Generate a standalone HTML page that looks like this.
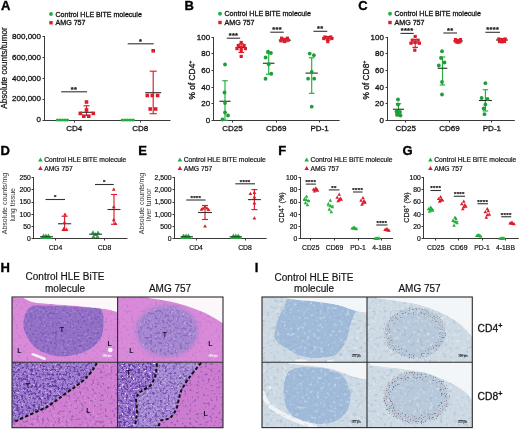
<!DOCTYPE html>
<html><head><meta charset="utf-8"><title>AMG 757 figure</title>
<style>
html,body{margin:0;padding:0;background:#fff;}
body{width:520px;height:429px;overflow:hidden;}
svg{display:block;filter:blur(0.3px);font-family:"Liberation Sans",Arial,sans-serif;}
</style></head>
<body>
<svg width="520" height="429" viewBox="0 0 520 429">
<defs>
<filter id="soft" x="-5%" y="-5%" width="110%" height="110%"><feGaussianBlur stdDeviation="0.55"/></filter>
<filter id="soft2" x="-20%" y="-20%" width="140%" height="140%"><feGaussianBlur stdDeviation="2.2"/></filter>
<filter id="nd" x="0" y="0" width="1" height="1" color-interpolation-filters="sRGB"><feTurbulence type="fractalNoise" baseFrequency="0.38" numOctaves="2" seed="4"/><feColorMatrix type="matrix" values="0 0 0 0 0.42  0 0 0 0 0.22  0 0 0 0 0.62  5 0 0 0 -2.8"/><feGaussianBlur stdDeviation="0.45"/></filter>
<filter id="nd2" x="0" y="0" width="1" height="1" color-interpolation-filters="sRGB"><feTurbulence type="fractalNoise" baseFrequency="0.4" numOctaves="2" seed="11"/><feColorMatrix type="matrix" values="0 0 0 0 0.33  0 0 0 0 0.2  0 0 0 0 0.6  6 0 0 0 -3.2"/><feGaussianBlur stdDeviation="0.45"/></filter>
<filter id="nd3" x="0" y="0" width="1" height="1" color-interpolation-filters="sRGB"><feTurbulence type="fractalNoise" baseFrequency="0.42" numOctaves="2" seed="23"/><feColorMatrix type="matrix" values="0 0 0 0 0.3  0 0 0 0 0.16  0 0 0 0 0.55  7 0 0 0 -3.5"/><feGaussianBlur stdDeviation="0.45"/></filter>
<filter id="nl" x="0" y="0" width="1" height="1" color-interpolation-filters="sRGB"><feTurbulence type="fractalNoise" baseFrequency="0.36" numOctaves="2" seed="7"/><feColorMatrix type="matrix" values="0 0 0 0 0.96  0 0 0 0 0.88  0 0 0 0 0.98  -6 0 0 0 2.4"/><feGaussianBlur stdDeviation="0.45"/></filter>
<filter id="nl2" x="0" y="0" width="1" height="1" color-interpolation-filters="sRGB"><feTurbulence type="fractalNoise" baseFrequency="0.45" numOctaves="2" seed="31"/><feColorMatrix type="matrix" values="0 0 0 0 0.98  0 0 0 0 0.95  0 0 0 0 1  -7 0 0 0 2.6"/><feGaussianBlur stdDeviation="0.45"/></filter>
<filter id="ib" x="0" y="0" width="1" height="1" color-interpolation-filters="sRGB"><feTurbulence type="fractalNoise" baseFrequency="0.3" numOctaves="2" seed="5"/><feColorMatrix type="matrix" values="0 0 0 0 0.55  0 0 0 0 0.64  0 0 0 0 0.76  4 0 0 0 -2.3"/><feGaussianBlur stdDeviation="0.5"/></filter>
<filter id="iw" x="0" y="0" width="1" height="1" color-interpolation-filters="sRGB"><feTurbulence type="fractalNoise" baseFrequency="0.3" numOctaves="2" seed="17"/><feColorMatrix type="matrix" values="0 0 0 0 0.95  0 0 0 0 0.97  0 0 0 0 0.99  -4 0 0 0 1.75"/><feGaussianBlur stdDeviation="0.5"/></filter>
<filter id="br" x="0" y="0" width="1" height="1" color-interpolation-filters="sRGB"><feTurbulence type="fractalNoise" baseFrequency="0.75" numOctaves="1" seed="41"/><feColorMatrix type="matrix" values="0 0 0 0 0.5  0 0 0 0 0.32  0 0 0 0 0.28  8 0 0 0 -4.6"/><feGaussianBlur stdDeviation="0.4"/></filter>
<clipPath id="c1"><rect x="12" y="297" width="105.6" height="65.2"/></clipPath>
<clipPath id="c2"><rect x="117.6" y="297" width="105.4" height="65.2"/></clipPath>
<clipPath id="c3"><rect x="12" y="362.2" width="105.6" height="65.5"/></clipPath>
<clipPath id="c4"><rect x="117.6" y="362.2" width="105.4" height="65.5"/></clipPath>
<clipPath id="c5"><rect x="262" y="297" width="105" height="65.3"/></clipPath>
<clipPath id="c6"><rect x="367" y="297" width="105.3" height="65.3"/></clipPath>
<clipPath id="c7"><rect x="262" y="362.3" width="105" height="65.3"/></clipPath>
<clipPath id="c8"><rect x="367" y="362.3" width="105.3" height="65.3"/></clipPath>
</defs>
<rect x="0" y="0" width="520" height="429" fill="#fff"/>
<text x="0.90" y="10.30" font-size="13" font-weight="bold" fill="#000" stroke="#000" stroke-width="0.35">A</text>
<circle cx="51.00" cy="14.00" r="1.9" fill="#22ad3f"/>
<text x="55.50" y="16.50" font-size="7.1" text-anchor="start" font-weight="normal" fill="#141414" stroke="#141414" stroke-width="0.3" >Control HLE BiTE molecule</text>
<rect x="49.30" y="21.05" width="3.4" height="3.4" fill="#dc1c2a"/>
<text x="55.50" y="25.25" font-size="7.1" text-anchor="start" font-weight="normal" fill="#141414" stroke="#141414" stroke-width="0.3" >AMG 757</text>
<text transform="translate(7.00,68.00) rotate(-90)" font-size="8.2" text-anchor="middle" fill="#141414" stroke="#141414" stroke-width="0.22">Absolute counts/tumor</text>
<line x1="44.50" y1="36.00" x2="44.50" y2="121.00" stroke="#3a3a3a" stroke-width="1.0"/>
<line x1="42.50" y1="120.50" x2="44.50" y2="120.50" stroke="#3a3a3a" stroke-width="1.0"/>
<text x="41.00" y="122.26" font-size="8.0" text-anchor="end" font-weight="normal" fill="#141414" stroke="#141414" stroke-width="0.3" >0</text>
<line x1="42.50" y1="99.50" x2="44.50" y2="99.50" stroke="#3a3a3a" stroke-width="1.0"/>
<text x="41.00" y="101.46" font-size="8.0" text-anchor="end" font-weight="normal" fill="#141414" stroke="#141414" stroke-width="0.3" >200,000</text>
<line x1="42.50" y1="78.50" x2="44.50" y2="78.50" stroke="#3a3a3a" stroke-width="1.0"/>
<text x="41.00" y="80.66" font-size="8.0" text-anchor="end" font-weight="normal" fill="#141414" stroke="#141414" stroke-width="0.3" >400,000</text>
<line x1="42.50" y1="57.50" x2="44.50" y2="57.50" stroke="#3a3a3a" stroke-width="1.0"/>
<text x="41.00" y="59.86" font-size="8.0" text-anchor="end" font-weight="normal" fill="#141414" stroke="#141414" stroke-width="0.3" >600,000</text>
<line x1="42.50" y1="36.50" x2="44.50" y2="36.50" stroke="#3a3a3a" stroke-width="1.0"/>
<text x="41.00" y="39.06" font-size="8.0" text-anchor="end" font-weight="normal" fill="#141414" stroke="#141414" stroke-width="0.3" >800,000</text>
<line x1="44.00" y1="120.50" x2="170.50" y2="120.50" stroke="#3a3a3a" stroke-width="1.0"/>
<line x1="74.50" y1="120.50" x2="74.50" y2="122.50" stroke="#3a3a3a" stroke-width="1.0"/>
<text x="74.30" y="130.80" font-size="8.0" text-anchor="middle" font-weight="normal" fill="#141414" stroke="#141414" stroke-width="0.3" >CD4</text>
<line x1="140.50" y1="120.50" x2="140.50" y2="122.50" stroke="#3a3a3a" stroke-width="1.0"/>
<text x="140.30" y="130.80" font-size="8.0" text-anchor="middle" font-weight="normal" fill="#141414" stroke="#141414" stroke-width="0.3" >CD8</text>
<circle cx="57.50" cy="120.00" r="1.6" fill="#22ad3f"/>
<circle cx="60.00" cy="120.00" r="1.6" fill="#22ad3f"/>
<circle cx="62.50" cy="120.00" r="1.6" fill="#22ad3f"/>
<circle cx="65.00" cy="120.00" r="1.6" fill="#22ad3f"/>
<circle cx="67.30" cy="120.00" r="1.6" fill="#22ad3f"/>
<line x1="56.00" y1="120.00" x2="68.80" y2="120.00" stroke="#22ad3f" stroke-width="1.2"/>
<line x1="86.50" y1="105.80" x2="86.50" y2="115.50" stroke="#dc1c2a" stroke-width="1.15"/>
<line x1="80.00" y1="112.30" x2="93.00" y2="112.30" stroke="#2a2a2a" stroke-width="1.1"/>
<line x1="83.50" y1="105.80" x2="89.50" y2="105.80" stroke="#dc1c2a" stroke-width="1.15"/>
<line x1="83.50" y1="115.50" x2="89.50" y2="115.50" stroke="#dc1c2a" stroke-width="1.15"/>
<rect x="84.70" y="100.20" width="3.6" height="3.6" fill="#dc1c2a"/>
<rect x="84.70" y="108.20" width="3.6" height="3.6" fill="#dc1c2a"/>
<rect x="78.50" y="111.60" width="3.6" height="3.6" fill="#dc1c2a"/>
<rect x="91.50" y="111.60" width="3.6" height="3.6" fill="#dc1c2a"/>
<rect x="82.00" y="114.40" width="3.6" height="3.6" fill="#dc1c2a"/>
<rect x="87.00" y="114.40" width="3.6" height="3.6" fill="#dc1c2a"/>
<line x1="61.20" y1="91.80" x2="87.00" y2="91.80" stroke="#333" stroke-width="1.1"/>
<text x="74.10" y="91.80" font-size="7.4" text-anchor="middle" font-weight="bold" fill="#222" stroke="#222" stroke-width="0.25" letter-spacing="0.35">**</text>
<circle cx="122.30" cy="120.00" r="1.6" fill="#22ad3f"/>
<circle cx="125.00" cy="120.00" r="1.6" fill="#22ad3f"/>
<circle cx="127.70" cy="120.00" r="1.6" fill="#22ad3f"/>
<circle cx="130.40" cy="120.00" r="1.6" fill="#22ad3f"/>
<circle cx="133.10" cy="120.00" r="1.6" fill="#22ad3f"/>
<line x1="121.00" y1="120.00" x2="134.40" y2="120.00" stroke="#22ad3f" stroke-width="1.2"/>
<line x1="153.20" y1="71.20" x2="153.20" y2="113.70" stroke="#dc1c2a" stroke-width="1.15"/>
<line x1="145.20" y1="92.70" x2="161.20" y2="92.70" stroke="#2a2a2a" stroke-width="1.1"/>
<line x1="149.70" y1="71.20" x2="156.70" y2="71.20" stroke="#dc1c2a" stroke-width="1.15"/>
<line x1="149.70" y1="113.70" x2="156.70" y2="113.70" stroke="#dc1c2a" stroke-width="1.15"/>
<rect x="151.40" y="49.00" width="3.6" height="3.6" fill="#dc1c2a"/>
<rect x="145.50" y="93.70" width="3.6" height="3.6" fill="#dc1c2a"/>
<rect x="150.50" y="93.70" width="3.6" height="3.6" fill="#dc1c2a"/>
<rect x="155.80" y="93.70" width="3.6" height="3.6" fill="#dc1c2a"/>
<rect x="148.40" y="107.20" width="3.6" height="3.6" fill="#dc1c2a"/>
<rect x="153.80" y="107.20" width="3.6" height="3.6" fill="#dc1c2a"/>
<line x1="127.70" y1="43.80" x2="153.70" y2="43.80" stroke="#333" stroke-width="1.1"/>
<text x="140.70" y="43.80" font-size="7.4" text-anchor="middle" font-weight="bold" fill="#222" stroke="#222" stroke-width="0.25" letter-spacing="0.35">*</text>
<text x="184.60" y="10.00" font-size="13" font-weight="bold" fill="#000" stroke="#000" stroke-width="0.35">B</text>
<circle cx="220.00" cy="13.75" r="1.9" fill="#22ad3f"/>
<text x="224.50" y="16.25" font-size="7.1" text-anchor="start" font-weight="normal" fill="#141414" stroke="#141414" stroke-width="0.3" >Control HLE BiTE molecule</text>
<rect x="218.30" y="20.80" width="3.4" height="3.4" fill="#dc1c2a"/>
<text x="224.50" y="25.00" font-size="7.1" text-anchor="start" font-weight="normal" fill="#141414" stroke="#141414" stroke-width="0.3" >AMG 757</text>
<text transform="translate(195.4,80) rotate(-90)" font-size="8.4" text-anchor="middle" fill="#141414" stroke="#141414" stroke-width="0.3">% of CD4<tspan dy="-3" font-size="5.5">+</tspan></text>
<line x1="213.50" y1="37.00" x2="213.50" y2="121.00" stroke="#3a3a3a" stroke-width="1.0"/>
<line x1="211.50" y1="120.50" x2="213.50" y2="120.50" stroke="#3a3a3a" stroke-width="1.0"/>
<text x="210.20" y="122.76" font-size="8.0" text-anchor="end" font-weight="normal" fill="#141414" stroke="#141414" stroke-width="0.3" >0</text>
<line x1="211.50" y1="103.50" x2="213.50" y2="103.50" stroke="#3a3a3a" stroke-width="1.0"/>
<text x="210.20" y="106.16" font-size="8.0" text-anchor="end" font-weight="normal" fill="#141414" stroke="#141414" stroke-width="0.3" >20</text>
<line x1="211.50" y1="87.50" x2="213.50" y2="87.50" stroke="#3a3a3a" stroke-width="1.0"/>
<text x="210.20" y="89.56" font-size="8.0" text-anchor="end" font-weight="normal" fill="#141414" stroke="#141414" stroke-width="0.3" >40</text>
<line x1="211.50" y1="70.50" x2="213.50" y2="70.50" stroke="#3a3a3a" stroke-width="1.0"/>
<text x="210.20" y="72.96" font-size="8.0" text-anchor="end" font-weight="normal" fill="#141414" stroke="#141414" stroke-width="0.3" >60</text>
<line x1="211.50" y1="53.50" x2="213.50" y2="53.50" stroke="#3a3a3a" stroke-width="1.0"/>
<text x="210.20" y="56.36" font-size="8.0" text-anchor="end" font-weight="normal" fill="#141414" stroke="#141414" stroke-width="0.3" >80</text>
<line x1="211.50" y1="37.50" x2="213.50" y2="37.50" stroke="#3a3a3a" stroke-width="1.0"/>
<text x="210.20" y="39.76" font-size="8.0" text-anchor="end" font-weight="normal" fill="#141414" stroke="#141414" stroke-width="0.3" >100</text>
<line x1="213.00" y1="120.50" x2="339.60" y2="120.50" stroke="#3a3a3a" stroke-width="1.0"/>
<line x1="232.50" y1="120.50" x2="232.50" y2="122.50" stroke="#3a3a3a" stroke-width="1.0"/>
<text x="232.50" y="130.80" font-size="8.0" text-anchor="middle" font-weight="normal" fill="#141414" stroke="#141414" stroke-width="0.3" >CD25</text>
<line x1="276.50" y1="120.50" x2="276.50" y2="122.50" stroke="#3a3a3a" stroke-width="1.0"/>
<text x="276.25" y="130.80" font-size="8.0" text-anchor="middle" font-weight="normal" fill="#141414" stroke="#141414" stroke-width="0.3" >CD69</text>
<line x1="319.50" y1="120.50" x2="319.50" y2="122.50" stroke="#3a3a3a" stroke-width="1.0"/>
<text x="319.50" y="130.80" font-size="8.0" text-anchor="middle" font-weight="normal" fill="#141414" stroke="#141414" stroke-width="0.3" >PD-1</text>
<line x1="225.00" y1="80.75" x2="225.00" y2="120.30" stroke="#22ad3f" stroke-width="1.15"/>
<line x1="219.40" y1="101.25" x2="230.60" y2="101.25" stroke="#2a2a2a" stroke-width="1.1"/>
<line x1="222.20" y1="80.75" x2="227.80" y2="80.75" stroke="#22ad3f" stroke-width="1.15"/>
<line x1="222.20" y1="120.30" x2="227.80" y2="120.30" stroke="#22ad3f" stroke-width="1.15"/>
<circle cx="225.00" cy="64.50" r="1.9" fill="#1f9d36"/>
<circle cx="224.50" cy="92.50" r="1.9" fill="#1f9d36"/>
<circle cx="225.00" cy="103.00" r="1.9" fill="#1f9d36"/>
<circle cx="225.00" cy="112.50" r="1.9" fill="#1f9d36"/>
<circle cx="228.00" cy="115.50" r="1.9" fill="#1f9d36"/>
<circle cx="222.50" cy="119.50" r="1.9" fill="#1f9d36"/>
<line x1="241.20" y1="44.00" x2="241.20" y2="52.50" stroke="#dc1c2a" stroke-width="1.15"/>
<line x1="235.70" y1="47.50" x2="246.70" y2="47.50" stroke="#2a2a2a" stroke-width="1.1"/>
<line x1="238.40" y1="44.00" x2="244.00" y2="44.00" stroke="#dc1c2a" stroke-width="1.15"/>
<line x1="238.40" y1="52.50" x2="244.00" y2="52.50" stroke="#dc1c2a" stroke-width="1.15"/>
<rect x="239.60" y="40.90" width="3.2" height="3.2" fill="#dc1c2a"/>
<rect x="236.70" y="44.00" width="3.2" height="3.2" fill="#dc1c2a"/>
<rect x="242.50" y="44.00" width="3.2" height="3.2" fill="#dc1c2a"/>
<rect x="239.60" y="45.90" width="3.2" height="3.2" fill="#dc1c2a"/>
<rect x="235.40" y="47.00" width="3.2" height="3.2" fill="#dc1c2a"/>
<rect x="243.80" y="47.00" width="3.2" height="3.2" fill="#dc1c2a"/>
<rect x="239.60" y="48.90" width="3.2" height="3.2" fill="#dc1c2a"/>
<rect x="239.60" y="54.80" width="3.2" height="3.2" fill="#dc1c2a"/>
<line x1="226.80" y1="38.20" x2="240.20" y2="38.20" stroke="#333" stroke-width="1.1"/>
<text x="233.50" y="38.20" font-size="7.4" text-anchor="middle" font-weight="bold" fill="#222" stroke="#222" stroke-width="0.25" letter-spacing="0.35">***</text>
<line x1="268.70" y1="53.00" x2="268.70" y2="74.25" stroke="#22ad3f" stroke-width="1.15"/>
<line x1="262.90" y1="63.25" x2="274.50" y2="63.25" stroke="#2a2a2a" stroke-width="1.1"/>
<line x1="265.90" y1="53.00" x2="271.50" y2="53.00" stroke="#22ad3f" stroke-width="1.15"/>
<line x1="265.90" y1="74.25" x2="271.50" y2="74.25" stroke="#22ad3f" stroke-width="1.15"/>
<circle cx="268.00" cy="51.75" r="1.9" fill="#1f9d36"/>
<circle cx="270.90" cy="53.00" r="1.9" fill="#1f9d36"/>
<circle cx="265.60" cy="57.50" r="1.9" fill="#1f9d36"/>
<circle cx="268.70" cy="64.25" r="1.9" fill="#1f9d36"/>
<circle cx="271.30" cy="73.75" r="1.9" fill="#1f9d36"/>
<circle cx="265.50" cy="78.75" r="1.9" fill="#1f9d36"/>
<line x1="284.80" y1="38.50" x2="284.80" y2="42.00" stroke="#dc1c2a" stroke-width="1.15"/>
<line x1="278.80" y1="40.20" x2="290.80" y2="40.20" stroke="#2a2a2a" stroke-width="1.1"/>
<line x1="282.30" y1="38.50" x2="287.30" y2="38.50" stroke="#dc1c2a" stroke-width="1.15"/>
<line x1="282.30" y1="42.00" x2="287.30" y2="42.00" stroke="#dc1c2a" stroke-width="1.15"/>
<rect x="280.00" y="36.60" width="3.2" height="3.2" fill="#dc1c2a"/>
<rect x="285.80" y="36.60" width="3.2" height="3.2" fill="#dc1c2a"/>
<rect x="282.90" y="39.90" width="3.2" height="3.2" fill="#dc1c2a"/>
<rect x="279.20" y="39.20" width="3.2" height="3.2" fill="#dc1c2a"/>
<rect x="286.60" y="38.60" width="3.2" height="3.2" fill="#dc1c2a"/>
<rect x="282.90" y="37.90" width="3.2" height="3.2" fill="#dc1c2a"/>
<line x1="270.30" y1="32.20" x2="283.80" y2="32.20" stroke="#333" stroke-width="1.1"/>
<text x="277.05" y="32.20" font-size="7.4" text-anchor="middle" font-weight="bold" fill="#222" stroke="#222" stroke-width="0.25" letter-spacing="0.35">***</text>
<line x1="311.70" y1="57.80" x2="311.70" y2="93.30" stroke="#22ad3f" stroke-width="1.15"/>
<line x1="305.60" y1="73.10" x2="317.80" y2="73.10" stroke="#2a2a2a" stroke-width="1.1"/>
<line x1="308.90" y1="57.80" x2="314.50" y2="57.80" stroke="#22ad3f" stroke-width="1.15"/>
<line x1="308.90" y1="93.30" x2="314.50" y2="93.30" stroke="#22ad3f" stroke-width="1.15"/>
<circle cx="309.70" cy="53.60" r="1.9" fill="#1f9d36"/>
<circle cx="313.90" cy="55.20" r="1.9" fill="#1f9d36"/>
<circle cx="308.10" cy="78.70" r="1.9" fill="#1f9d36"/>
<circle cx="314.20" cy="78.70" r="1.9" fill="#1f9d36"/>
<circle cx="311.70" cy="106.70" r="1.9" fill="#1f9d36"/>
<circle cx="311.70" cy="72.00" r="1.9" fill="#1f9d36"/>
<line x1="328.00" y1="36.50" x2="328.00" y2="40.00" stroke="#dc1c2a" stroke-width="1.15"/>
<line x1="322.50" y1="38.00" x2="333.50" y2="38.00" stroke="#2a2a2a" stroke-width="1.1"/>
<line x1="325.50" y1="36.50" x2="330.50" y2="36.50" stroke="#dc1c2a" stroke-width="1.15"/>
<line x1="325.50" y1="40.00" x2="330.50" y2="40.00" stroke="#dc1c2a" stroke-width="1.15"/>
<rect x="323.30" y="35.40" width="3.2" height="3.2" fill="#dc1c2a"/>
<rect x="329.20" y="35.40" width="3.2" height="3.2" fill="#dc1c2a"/>
<rect x="326.20" y="37.80" width="3.2" height="3.2" fill="#dc1c2a"/>
<rect x="326.20" y="40.00" width="3.2" height="3.2" fill="#dc1c2a"/>
<rect x="322.20" y="36.90" width="3.2" height="3.2" fill="#dc1c2a"/>
<rect x="330.20" y="36.90" width="3.2" height="3.2" fill="#dc1c2a"/>
<line x1="313.40" y1="31.30" x2="327.30" y2="31.30" stroke="#333" stroke-width="1.1"/>
<text x="320.35" y="31.30" font-size="7.4" text-anchor="middle" font-weight="bold" fill="#222" stroke="#222" stroke-width="0.25" letter-spacing="0.35">**</text>
<text x="358.30" y="10.30" font-size="13" font-weight="bold" fill="#000" stroke="#000" stroke-width="0.35">C</text>
<circle cx="390.00" cy="13.75" r="1.9" fill="#22ad3f"/>
<text x="394.50" y="16.25" font-size="7.1" text-anchor="start" font-weight="normal" fill="#141414" stroke="#141414" stroke-width="0.3" >Control HLE BiTE molecule</text>
<rect x="388.30" y="20.80" width="3.4" height="3.4" fill="#dc1c2a"/>
<text x="394.50" y="25.00" font-size="7.1" text-anchor="start" font-weight="normal" fill="#141414" stroke="#141414" stroke-width="0.3" >AMG 757</text>
<text transform="translate(369.4,80) rotate(-90)" font-size="8.4" text-anchor="middle" fill="#141414" stroke="#141414" stroke-width="0.3">% of CD8<tspan dy="-3" font-size="5.5">+</tspan></text>
<line x1="387.50" y1="37.00" x2="387.50" y2="121.00" stroke="#3a3a3a" stroke-width="1.0"/>
<line x1="385.50" y1="120.50" x2="387.50" y2="120.50" stroke="#3a3a3a" stroke-width="1.0"/>
<text x="383.90" y="122.76" font-size="8.0" text-anchor="end" font-weight="normal" fill="#141414" stroke="#141414" stroke-width="0.3" >0</text>
<line x1="385.50" y1="103.50" x2="387.50" y2="103.50" stroke="#3a3a3a" stroke-width="1.0"/>
<text x="383.90" y="106.16" font-size="8.0" text-anchor="end" font-weight="normal" fill="#141414" stroke="#141414" stroke-width="0.3" >20</text>
<line x1="385.50" y1="87.50" x2="387.50" y2="87.50" stroke="#3a3a3a" stroke-width="1.0"/>
<text x="383.90" y="89.56" font-size="8.0" text-anchor="end" font-weight="normal" fill="#141414" stroke="#141414" stroke-width="0.3" >40</text>
<line x1="385.50" y1="70.50" x2="387.50" y2="70.50" stroke="#3a3a3a" stroke-width="1.0"/>
<text x="383.90" y="72.96" font-size="8.0" text-anchor="end" font-weight="normal" fill="#141414" stroke="#141414" stroke-width="0.3" >60</text>
<line x1="385.50" y1="53.50" x2="387.50" y2="53.50" stroke="#3a3a3a" stroke-width="1.0"/>
<text x="383.90" y="56.36" font-size="8.0" text-anchor="end" font-weight="normal" fill="#141414" stroke="#141414" stroke-width="0.3" >80</text>
<line x1="385.50" y1="37.50" x2="387.50" y2="37.50" stroke="#3a3a3a" stroke-width="1.0"/>
<text x="383.90" y="39.76" font-size="8.0" text-anchor="end" font-weight="normal" fill="#141414" stroke="#141414" stroke-width="0.3" >100</text>
<line x1="387.00" y1="120.50" x2="514.80" y2="120.50" stroke="#3a3a3a" stroke-width="1.0"/>
<line x1="405.50" y1="120.50" x2="405.50" y2="122.50" stroke="#3a3a3a" stroke-width="1.0"/>
<text x="405.75" y="130.80" font-size="8.0" text-anchor="middle" font-weight="normal" fill="#141414" stroke="#141414" stroke-width="0.3" >CD25</text>
<line x1="449.50" y1="120.50" x2="449.50" y2="122.50" stroke="#3a3a3a" stroke-width="1.0"/>
<text x="449.50" y="130.80" font-size="8.0" text-anchor="middle" font-weight="normal" fill="#141414" stroke="#141414" stroke-width="0.3" >CD69</text>
<line x1="491.50" y1="120.50" x2="491.50" y2="122.50" stroke="#3a3a3a" stroke-width="1.0"/>
<text x="491.90" y="130.80" font-size="8.0" text-anchor="middle" font-weight="normal" fill="#141414" stroke="#141414" stroke-width="0.3" >PD-1</text>
<line x1="398.50" y1="103.75" x2="398.50" y2="116.00" stroke="#22ad3f" stroke-width="1.15"/>
<line x1="392.90" y1="109.25" x2="404.10" y2="109.25" stroke="#2a2a2a" stroke-width="1.1"/>
<line x1="395.70" y1="103.75" x2="401.30" y2="103.75" stroke="#22ad3f" stroke-width="1.15"/>
<line x1="395.70" y1="116.00" x2="401.30" y2="116.00" stroke="#22ad3f" stroke-width="1.15"/>
<circle cx="398.00" cy="99.50" r="1.9" fill="#1f9d36"/>
<circle cx="398.00" cy="104.50" r="1.9" fill="#1f9d36"/>
<circle cx="396.50" cy="111.50" r="1.9" fill="#1f9d36"/>
<circle cx="400.00" cy="112.00" r="1.9" fill="#1f9d36"/>
<circle cx="397.00" cy="114.50" r="1.9" fill="#1f9d36"/>
<circle cx="400.50" cy="115.50" r="1.9" fill="#1f9d36"/>
<line x1="415.20" y1="39.50" x2="415.20" y2="47.40" stroke="#dc1c2a" stroke-width="1.15"/>
<line x1="409.40" y1="43.00" x2="421.00" y2="43.00" stroke="#2a2a2a" stroke-width="1.1"/>
<line x1="412.40" y1="39.50" x2="418.00" y2="39.50" stroke="#dc1c2a" stroke-width="1.15"/>
<line x1="412.40" y1="47.40" x2="418.00" y2="47.40" stroke="#dc1c2a" stroke-width="1.15"/>
<rect x="413.60" y="34.90" width="3.2" height="3.2" fill="#dc1c2a"/>
<rect x="410.70" y="38.60" width="3.2" height="3.2" fill="#dc1c2a"/>
<rect x="416.50" y="38.60" width="3.2" height="3.2" fill="#dc1c2a"/>
<rect x="413.60" y="40.40" width="3.2" height="3.2" fill="#dc1c2a"/>
<rect x="409.40" y="41.60" width="3.2" height="3.2" fill="#dc1c2a"/>
<rect x="417.80" y="41.60" width="3.2" height="3.2" fill="#dc1c2a"/>
<rect x="413.20" y="48.60" width="3.2" height="3.2" fill="#dc1c2a"/>
<line x1="400.50" y1="33.40" x2="413.75" y2="33.40" stroke="#333" stroke-width="1.1"/>
<text x="407.12" y="33.40" font-size="7.4" text-anchor="middle" font-weight="bold" fill="#222" stroke="#222" stroke-width="0.25" letter-spacing="0.35">****</text>
<line x1="442.50" y1="57.00" x2="442.50" y2="85.00" stroke="#22ad3f" stroke-width="1.15"/>
<line x1="437.70" y1="68.25" x2="447.30" y2="68.25" stroke="#2a2a2a" stroke-width="1.1"/>
<line x1="439.70" y1="57.00" x2="445.30" y2="57.00" stroke="#22ad3f" stroke-width="1.15"/>
<line x1="439.70" y1="85.00" x2="445.30" y2="85.00" stroke="#22ad3f" stroke-width="1.15"/>
<circle cx="442.00" cy="51.25" r="1.9" fill="#1f9d36"/>
<circle cx="444.50" cy="62.50" r="1.9" fill="#1f9d36"/>
<circle cx="438.80" cy="65.50" r="1.9" fill="#1f9d36"/>
<circle cx="442.00" cy="82.00" r="1.9" fill="#1f9d36"/>
<circle cx="442.00" cy="94.50" r="1.9" fill="#1f9d36"/>
<circle cx="441.00" cy="58.00" r="1.9" fill="#1f9d36"/>
<line x1="458.00" y1="39.50" x2="458.00" y2="42.50" stroke="#dc1c2a" stroke-width="1.15"/>
<line x1="453.20" y1="41.00" x2="462.80" y2="41.00" stroke="#2a2a2a" stroke-width="1.1"/>
<line x1="455.50" y1="39.50" x2="460.50" y2="39.50" stroke="#dc1c2a" stroke-width="1.15"/>
<line x1="455.50" y1="42.50" x2="460.50" y2="42.50" stroke="#dc1c2a" stroke-width="1.15"/>
<rect x="453.90" y="38.00" width="3.2" height="3.2" fill="#dc1c2a"/>
<rect x="458.90" y="38.00" width="3.2" height="3.2" fill="#dc1c2a"/>
<rect x="456.40" y="40.70" width="3.2" height="3.2" fill="#dc1c2a"/>
<rect x="454.40" y="40.20" width="3.2" height="3.2" fill="#dc1c2a"/>
<rect x="458.40" y="40.20" width="3.2" height="3.2" fill="#dc1c2a"/>
<rect x="456.40" y="39.00" width="3.2" height="3.2" fill="#dc1c2a"/>
<line x1="443.30" y1="33.00" x2="457.00" y2="33.00" stroke="#333" stroke-width="1.1"/>
<text x="450.15" y="33.00" font-size="7.4" text-anchor="middle" font-weight="bold" fill="#222" stroke="#222" stroke-width="0.25" letter-spacing="0.35">**</text>
<line x1="485.40" y1="89.75" x2="485.40" y2="111.00" stroke="#22ad3f" stroke-width="1.15"/>
<line x1="478.90" y1="100.50" x2="491.90" y2="100.50" stroke="#2a2a2a" stroke-width="1.1"/>
<line x1="482.60" y1="89.75" x2="488.20" y2="89.75" stroke="#22ad3f" stroke-width="1.15"/>
<line x1="482.60" y1="111.00" x2="488.20" y2="111.00" stroke="#22ad3f" stroke-width="1.15"/>
<circle cx="485.40" cy="83.20" r="1.9" fill="#1f9d36"/>
<circle cx="481.60" cy="98.00" r="1.9" fill="#1f9d36"/>
<circle cx="487.50" cy="99.00" r="1.9" fill="#1f9d36"/>
<circle cx="485.40" cy="104.40" r="1.9" fill="#1f9d36"/>
<circle cx="483.70" cy="108.50" r="1.9" fill="#1f9d36"/>
<circle cx="484.50" cy="114.20" r="1.9" fill="#1f9d36"/>
<line x1="502.00" y1="38.50" x2="502.00" y2="41.50" stroke="#dc1c2a" stroke-width="1.15"/>
<line x1="496.00" y1="40.00" x2="508.00" y2="40.00" stroke="#2a2a2a" stroke-width="1.1"/>
<line x1="499.50" y1="38.50" x2="504.50" y2="38.50" stroke="#dc1c2a" stroke-width="1.15"/>
<line x1="499.50" y1="41.50" x2="504.50" y2="41.50" stroke="#dc1c2a" stroke-width="1.15"/>
<rect x="497.20" y="37.40" width="3.2" height="3.2" fill="#dc1c2a"/>
<rect x="503.60" y="37.40" width="3.2" height="3.2" fill="#dc1c2a"/>
<rect x="500.40" y="40.20" width="3.2" height="3.2" fill="#dc1c2a"/>
<rect x="497.90" y="39.90" width="3.2" height="3.2" fill="#dc1c2a"/>
<rect x="502.90" y="39.90" width="3.2" height="3.2" fill="#dc1c2a"/>
<rect x="500.40" y="38.40" width="3.2" height="3.2" fill="#dc1c2a"/>
<line x1="485.40" y1="32.30" x2="500.00" y2="32.30" stroke="#333" stroke-width="1.1"/>
<text x="492.70" y="32.30" font-size="7.4" text-anchor="middle" font-weight="bold" fill="#222" stroke="#222" stroke-width="0.25" letter-spacing="0.35">****</text>
<text x="0.40" y="154.70" font-size="13" font-weight="bold" fill="#000" stroke="#000" stroke-width="0.35">D</text>
<polygon points="40.40,157.60 38.10,161.60 42.70,161.60" fill="#22ad3f"/>
<text x="44.20" y="162.40" font-size="6.75" text-anchor="start" font-weight="normal" fill="#141414" stroke="#141414" stroke-width="0.2" >Control HLE BiTE molecule</text>
<polygon points="40.40,166.00 38.10,170.00 42.70,170.00" fill="#dc1c2a"/>
<text x="44.20" y="170.90" font-size="6.75" text-anchor="start" font-weight="normal" fill="#141414" stroke="#141414" stroke-width="0.2" >AMG 757</text>
<text transform="translate(7.30,203.50) rotate(-90)" font-size="7.0" text-anchor="middle" fill="#333" stroke="#333" stroke-width="0">Absolute counts/mg</text>
<text transform="translate(14.60,204.80) rotate(-90)" font-size="7.0" text-anchor="middle" fill="#333" stroke="#333" stroke-width="0">lung tissue</text>
<line x1="33.50" y1="177.00" x2="33.50" y2="239.00" stroke="#3a3a3a" stroke-width="1.0"/>
<line x1="31.50" y1="238.50" x2="33.50" y2="238.50" stroke="#3a3a3a" stroke-width="1.0"/>
<text x="30.85" y="241.18" font-size="6.8" text-anchor="end" font-weight="normal" fill="#141414" stroke="#141414" stroke-width="0.2" >0</text>
<line x1="31.50" y1="226.50" x2="33.50" y2="226.50" stroke="#3a3a3a" stroke-width="1.0"/>
<text x="30.85" y="228.93" font-size="6.8" text-anchor="end" font-weight="normal" fill="#141414" stroke="#141414" stroke-width="0.2" >50</text>
<line x1="31.50" y1="214.50" x2="33.50" y2="214.50" stroke="#3a3a3a" stroke-width="1.0"/>
<text x="30.85" y="216.68" font-size="6.8" text-anchor="end" font-weight="normal" fill="#141414" stroke="#141414" stroke-width="0.2" >100</text>
<line x1="31.50" y1="202.50" x2="33.50" y2="202.50" stroke="#3a3a3a" stroke-width="1.0"/>
<text x="30.85" y="204.43" font-size="6.8" text-anchor="end" font-weight="normal" fill="#141414" stroke="#141414" stroke-width="0.2" >150</text>
<line x1="31.50" y1="189.50" x2="33.50" y2="189.50" stroke="#3a3a3a" stroke-width="1.0"/>
<text x="30.85" y="192.18" font-size="6.8" text-anchor="end" font-weight="normal" fill="#141414" stroke="#141414" stroke-width="0.2" >200</text>
<line x1="31.50" y1="177.50" x2="33.50" y2="177.50" stroke="#3a3a3a" stroke-width="1.0"/>
<text x="30.85" y="179.93" font-size="6.8" text-anchor="end" font-weight="normal" fill="#141414" stroke="#141414" stroke-width="0.2" >250</text>
<line x1="33.00" y1="238.50" x2="127.50" y2="238.50" stroke="#3a3a3a" stroke-width="1.0"/>
<line x1="55.50" y1="238.50" x2="55.50" y2="240.50" stroke="#3a3a3a" stroke-width="1.0"/>
<text x="55.50" y="249.60" font-size="6.8" text-anchor="middle" font-weight="normal" fill="#141414" stroke="#141414" stroke-width="0.2" >CD4</text>
<line x1="104.50" y1="238.50" x2="104.50" y2="240.50" stroke="#3a3a3a" stroke-width="1.0"/>
<text x="104.50" y="249.60" font-size="6.8" text-anchor="middle" font-weight="normal" fill="#141414" stroke="#141414" stroke-width="0.2" >CD8</text>
<polygon points="42.40,235.16 40.25,238.90 44.55,238.90" fill="#22ad3f"/>
<polygon points="44.80,235.16 42.65,238.90 46.95,238.90" fill="#22ad3f"/>
<polygon points="47.20,235.16 45.05,238.90 49.35,238.90" fill="#22ad3f"/>
<polygon points="49.60,235.16 47.45,238.90 51.75,238.90" fill="#22ad3f"/>
<polygon points="43.60,233.56 41.45,237.30 45.75,237.30" fill="#22ad3f"/>
<polygon points="46.00,233.56 43.85,237.30 48.15,237.30" fill="#22ad3f"/>
<polygon points="48.40,233.56 46.25,237.30 50.55,237.30" fill="#22ad3f"/>
<line x1="40.00" y1="236.80" x2="53.00" y2="236.80" stroke="#333" stroke-width="1.1"/>
<line x1="64.60" y1="216.25" x2="64.60" y2="230.50" stroke="#dc1c2a" stroke-width="1.15"/>
<line x1="58.00" y1="223.75" x2="71.20" y2="223.75" stroke="#333" stroke-width="1.1"/>
<line x1="61.60" y1="216.25" x2="67.60" y2="216.25" stroke="#dc1c2a" stroke-width="1.15"/>
<line x1="61.60" y1="230.50" x2="67.60" y2="230.50" stroke="#dc1c2a" stroke-width="1.15"/>
<polygon points="65.00,212.52 63.10,215.82 66.90,215.82" fill="#dc1c2a"/>
<polygon points="63.80,226.82 61.90,230.12 65.70,230.12" fill="#dc1c2a"/>
<polygon points="66.50,227.52 64.60,230.82 68.40,230.82" fill="#dc1c2a"/>
<polygon points="64.50,220.52 62.60,223.82 66.40,223.82" fill="#dc1c2a"/>
<line x1="45.50" y1="199.50" x2="65.00" y2="199.50" stroke="#333" stroke-width="1.1"/>
<text x="55.25" y="199.30" font-size="6.1" text-anchor="middle" font-weight="bold" fill="#222" stroke="#222" stroke-width="0.25" letter-spacing="0.35">*</text>
<polygon points="93.00,230.36 90.85,234.10 95.15,234.10" fill="#22ad3f"/>
<polygon points="98.00,230.56 95.85,234.30 100.15,234.30" fill="#22ad3f"/>
<polygon points="95.50,232.36 93.35,236.10 97.65,236.10" fill="#22ad3f"/>
<polygon points="93.50,234.36 91.35,238.10 95.65,238.10" fill="#22ad3f"/>
<polygon points="97.50,234.16 95.35,237.90 99.65,237.90" fill="#22ad3f"/>
<line x1="89.10" y1="234.20" x2="102.00" y2="234.20" stroke="#333" stroke-width="1.1"/>
<line x1="114.00" y1="194.50" x2="114.00" y2="224.25" stroke="#dc1c2a" stroke-width="1.15"/>
<line x1="107.50" y1="209.50" x2="120.50" y2="209.50" stroke="#333" stroke-width="1.1"/>
<line x1="111.00" y1="194.50" x2="117.00" y2="194.50" stroke="#dc1c2a" stroke-width="1.15"/>
<line x1="111.00" y1="224.25" x2="117.00" y2="224.25" stroke="#dc1c2a" stroke-width="1.15"/>
<polygon points="113.75,187.52 111.85,190.82 115.65,190.82" fill="#dc1c2a"/>
<polygon points="113.75,205.02 111.85,208.32 115.65,208.32" fill="#dc1c2a"/>
<polygon points="113.75,218.02 111.85,221.32 115.65,221.32" fill="#dc1c2a"/>
<polygon points="115.50,221.77 113.60,225.07 117.40,225.07" fill="#dc1c2a"/>
<line x1="95.00" y1="184.50" x2="113.75" y2="184.50" stroke="#333" stroke-width="1.1"/>
<text x="104.38" y="184.30" font-size="6.1" text-anchor="middle" font-weight="bold" fill="#222" stroke="#222" stroke-width="0.25" letter-spacing="0.35">*</text>
<text x="138.20" y="154.70" font-size="13" font-weight="bold" fill="#000" stroke="#000" stroke-width="0.35">E</text>
<polygon points="179.90,157.60 177.60,161.60 182.20,161.60" fill="#22ad3f"/>
<text x="183.70" y="162.40" font-size="6.75" text-anchor="start" font-weight="normal" fill="#141414" stroke="#141414" stroke-width="0.2" >Control HLE BiTE molecule</text>
<polygon points="179.90,166.00 177.60,170.00 182.20,170.00" fill="#dc1c2a"/>
<text x="183.70" y="170.90" font-size="6.75" text-anchor="start" font-weight="normal" fill="#141414" stroke="#141414" stroke-width="0.2" >AMG 757</text>
<text transform="translate(144.00,203.50) rotate(-90)" font-size="7.0" text-anchor="middle" fill="#333" stroke="#333" stroke-width="0">Absolute counts/mg</text>
<text transform="translate(151.30,204.80) rotate(-90)" font-size="7.0" text-anchor="middle" fill="#333" stroke="#333" stroke-width="0">liver tumor</text>
<line x1="174.50" y1="177.00" x2="174.50" y2="239.00" stroke="#3a3a3a" stroke-width="1.0"/>
<line x1="172.50" y1="238.50" x2="174.50" y2="238.50" stroke="#3a3a3a" stroke-width="1.0"/>
<text x="171.50" y="241.18" font-size="6.8" text-anchor="end" font-weight="normal" fill="#141414" stroke="#141414" stroke-width="0.2" >0</text>
<line x1="172.50" y1="226.50" x2="174.50" y2="226.50" stroke="#3a3a3a" stroke-width="1.0"/>
<text x="171.50" y="228.93" font-size="6.8" text-anchor="end" font-weight="normal" fill="#141414" stroke="#141414" stroke-width="0.2" >500</text>
<line x1="172.50" y1="214.50" x2="174.50" y2="214.50" stroke="#3a3a3a" stroke-width="1.0"/>
<text x="171.50" y="216.68" font-size="6.8" text-anchor="end" font-weight="normal" fill="#141414" stroke="#141414" stroke-width="0.2" >1,000</text>
<line x1="172.50" y1="202.50" x2="174.50" y2="202.50" stroke="#3a3a3a" stroke-width="1.0"/>
<text x="171.50" y="204.43" font-size="6.8" text-anchor="end" font-weight="normal" fill="#141414" stroke="#141414" stroke-width="0.2" >1,500</text>
<line x1="172.50" y1="189.50" x2="174.50" y2="189.50" stroke="#3a3a3a" stroke-width="1.0"/>
<text x="171.50" y="192.18" font-size="6.8" text-anchor="end" font-weight="normal" fill="#141414" stroke="#141414" stroke-width="0.2" >2,000</text>
<line x1="172.50" y1="177.50" x2="174.50" y2="177.50" stroke="#3a3a3a" stroke-width="1.0"/>
<text x="171.50" y="179.93" font-size="6.8" text-anchor="end" font-weight="normal" fill="#141414" stroke="#141414" stroke-width="0.2" >2,500</text>
<line x1="174.00" y1="238.50" x2="266.70" y2="238.50" stroke="#3a3a3a" stroke-width="1.0"/>
<line x1="196.50" y1="238.50" x2="196.50" y2="240.50" stroke="#3a3a3a" stroke-width="1.0"/>
<text x="196.10" y="249.60" font-size="6.8" text-anchor="middle" font-weight="normal" fill="#141414" stroke="#141414" stroke-width="0.2" >CD4</text>
<line x1="245.50" y1="238.50" x2="245.50" y2="240.50" stroke="#3a3a3a" stroke-width="1.0"/>
<text x="245.00" y="249.60" font-size="6.8" text-anchor="middle" font-weight="normal" fill="#141414" stroke="#141414" stroke-width="0.2" >CD8</text>
<polygon points="182.40,235.16 180.25,238.90 184.55,238.90" fill="#22ad3f"/>
<polygon points="184.80,235.16 182.65,238.90 186.95,238.90" fill="#22ad3f"/>
<polygon points="187.20,235.16 185.05,238.90 189.35,238.90" fill="#22ad3f"/>
<polygon points="189.60,235.16 187.45,238.90 191.75,238.90" fill="#22ad3f"/>
<polygon points="183.60,233.56 181.45,237.30 185.75,237.30" fill="#22ad3f"/>
<polygon points="186.00,233.56 183.85,237.30 188.15,237.30" fill="#22ad3f"/>
<polygon points="188.40,233.56 186.25,237.30 190.55,237.30" fill="#22ad3f"/>
<line x1="180.50" y1="236.80" x2="193.00" y2="236.80" stroke="#333" stroke-width="1.1"/>
<line x1="205.00" y1="205.50" x2="205.00" y2="219.50" stroke="#dc1c2a" stroke-width="1.15"/>
<line x1="198.00" y1="212.50" x2="212.00" y2="212.50" stroke="#333" stroke-width="1.1"/>
<line x1="202.00" y1="205.50" x2="208.00" y2="205.50" stroke="#dc1c2a" stroke-width="1.15"/>
<line x1="202.00" y1="219.50" x2="208.00" y2="219.50" stroke="#dc1c2a" stroke-width="1.15"/>
<polygon points="203.00,206.52 201.10,209.82 204.90,209.82" fill="#dc1c2a"/>
<polygon points="207.00,206.22 205.10,209.52 208.90,209.52" fill="#dc1c2a"/>
<polygon points="205.00,205.02 203.10,208.32 206.90,208.32" fill="#dc1c2a"/>
<polygon points="201.50,207.52 199.60,210.82 203.40,210.82" fill="#dc1c2a"/>
<polygon points="208.50,207.82 206.60,211.12 210.40,211.12" fill="#dc1c2a"/>
<polygon points="205.00,224.32 203.10,227.62 206.90,227.62" fill="#dc1c2a"/>
<line x1="186.25" y1="200.00" x2="205.50" y2="200.00" stroke="#333" stroke-width="1.1"/>
<text x="195.88" y="199.80" font-size="6.1" text-anchor="middle" font-weight="bold" fill="#222" stroke="#222" stroke-width="0.25" letter-spacing="0.35">****</text>
<polygon points="232.20,235.16 230.05,238.90 234.35,238.90" fill="#22ad3f"/>
<polygon points="234.60,235.16 232.45,238.90 236.75,238.90" fill="#22ad3f"/>
<polygon points="237.00,235.16 234.85,238.90 239.15,238.90" fill="#22ad3f"/>
<polygon points="239.40,235.16 237.25,238.90 241.55,238.90" fill="#22ad3f"/>
<polygon points="233.40,233.56 231.25,237.30 235.55,237.30" fill="#22ad3f"/>
<polygon points="235.80,233.56 233.65,237.30 237.95,237.30" fill="#22ad3f"/>
<polygon points="238.20,233.56 236.05,237.30 240.35,237.30" fill="#22ad3f"/>
<line x1="229.50" y1="236.80" x2="242.00" y2="236.80" stroke="#333" stroke-width="1.1"/>
<line x1="254.40" y1="189.60" x2="254.40" y2="209.60" stroke="#dc1c2a" stroke-width="1.15"/>
<line x1="247.90" y1="199.60" x2="260.90" y2="199.60" stroke="#333" stroke-width="1.1"/>
<line x1="251.40" y1="189.60" x2="257.40" y2="189.60" stroke="#dc1c2a" stroke-width="1.15"/>
<line x1="251.40" y1="209.60" x2="257.40" y2="209.60" stroke="#dc1c2a" stroke-width="1.15"/>
<polygon points="250.40,191.82 248.50,195.12 252.30,195.12" fill="#dc1c2a"/>
<polygon points="254.40,190.62 252.50,193.92 256.30,193.92" fill="#dc1c2a"/>
<polygon points="254.40,195.32 252.50,198.62 256.30,198.62" fill="#dc1c2a"/>
<polygon points="254.40,201.12 252.50,204.42 256.30,204.42" fill="#dc1c2a"/>
<polygon points="254.40,216.32 252.50,219.62 256.30,219.62" fill="#dc1c2a"/>
<line x1="235.30" y1="183.80" x2="255.00" y2="183.80" stroke="#333" stroke-width="1.1"/>
<text x="245.15" y="183.60" font-size="6.1" text-anchor="middle" font-weight="bold" fill="#222" stroke="#222" stroke-width="0.25" letter-spacing="0.35">****</text>
<text x="278.30" y="154.70" font-size="13" font-weight="bold" fill="#000" stroke="#000" stroke-width="0.35">F</text>
<polygon points="306.65,157.60 304.35,161.60 308.95,161.60" fill="#22ad3f"/>
<text x="310.45" y="162.40" font-size="6.75" text-anchor="start" font-weight="normal" fill="#141414" stroke="#141414" stroke-width="0.2" >Control HLE BiTE molecule</text>
<polygon points="306.65,166.00 304.35,170.00 308.95,170.00" fill="#dc1c2a"/>
<text x="310.45" y="170.90" font-size="6.75" text-anchor="start" font-weight="normal" fill="#141414" stroke="#141414" stroke-width="0.2" >AMG 757</text>
<text transform="translate(283.9,207.5) rotate(-90)" font-size="7.2" text-anchor="middle" fill="#141414" stroke="#141414" stroke-width="0.2">CD4<tspan dy="-2.6" font-size="4.8">+</tspan><tspan dy="2.6"> (%)</tspan></text>
<line x1="300.50" y1="177.00" x2="300.50" y2="239.00" stroke="#3a3a3a" stroke-width="1.0"/>
<line x1="298.50" y1="238.50" x2="300.50" y2="238.50" stroke="#3a3a3a" stroke-width="1.0"/>
<text x="297.30" y="241.18" font-size="6.8" text-anchor="end" font-weight="normal" fill="#141414" stroke="#141414" stroke-width="0.2" >0</text>
<line x1="298.50" y1="226.50" x2="300.50" y2="226.50" stroke="#3a3a3a" stroke-width="1.0"/>
<text x="297.30" y="228.93" font-size="6.8" text-anchor="end" font-weight="normal" fill="#141414" stroke="#141414" stroke-width="0.2" >20</text>
<line x1="298.50" y1="214.50" x2="300.50" y2="214.50" stroke="#3a3a3a" stroke-width="1.0"/>
<text x="297.30" y="216.68" font-size="6.8" text-anchor="end" font-weight="normal" fill="#141414" stroke="#141414" stroke-width="0.2" >40</text>
<line x1="298.50" y1="202.50" x2="300.50" y2="202.50" stroke="#3a3a3a" stroke-width="1.0"/>
<text x="297.30" y="204.43" font-size="6.8" text-anchor="end" font-weight="normal" fill="#141414" stroke="#141414" stroke-width="0.2" >60</text>
<line x1="298.50" y1="189.50" x2="300.50" y2="189.50" stroke="#3a3a3a" stroke-width="1.0"/>
<text x="297.30" y="192.18" font-size="6.8" text-anchor="end" font-weight="normal" fill="#141414" stroke="#141414" stroke-width="0.2" >80</text>
<line x1="298.50" y1="177.50" x2="300.50" y2="177.50" stroke="#3a3a3a" stroke-width="1.0"/>
<text x="297.30" y="179.93" font-size="6.8" text-anchor="end" font-weight="normal" fill="#141414" stroke="#141414" stroke-width="0.2" >100</text>
<line x1="300.00" y1="238.50" x2="393.00" y2="238.50" stroke="#3a3a3a" stroke-width="1.0"/>
<line x1="310.50" y1="238.50" x2="310.50" y2="240.50" stroke="#3a3a3a" stroke-width="1.0"/>
<text x="310.75" y="249.60" font-size="6.8" text-anchor="middle" font-weight="normal" fill="#141414" stroke="#141414" stroke-width="0.2" >CD25</text>
<line x1="334.50" y1="238.50" x2="334.50" y2="240.50" stroke="#3a3a3a" stroke-width="1.0"/>
<text x="334.50" y="249.60" font-size="6.8" text-anchor="middle" font-weight="normal" fill="#141414" stroke="#141414" stroke-width="0.2" >CD69</text>
<line x1="358.50" y1="238.50" x2="358.50" y2="240.50" stroke="#3a3a3a" stroke-width="1.0"/>
<text x="358.00" y="249.60" font-size="6.8" text-anchor="middle" font-weight="normal" fill="#141414" stroke="#141414" stroke-width="0.2" >PD-1</text>
<line x1="381.50" y1="238.50" x2="381.50" y2="240.50" stroke="#3a3a3a" stroke-width="1.0"/>
<text x="381.75" y="249.60" font-size="6.8" text-anchor="middle" font-weight="normal" fill="#141414" stroke="#141414" stroke-width="0.2" >4-1BB</text>
<polygon points="306.50,194.62 304.70,197.75 308.30,197.75" fill="#22ad3f"/>
<polygon points="304.50,197.12 302.70,200.25 306.30,200.25" fill="#22ad3f"/>
<polygon points="308.50,199.12 306.70,202.25 310.30,202.25" fill="#22ad3f"/>
<polygon points="305.50,201.12 303.70,204.25 307.30,204.25" fill="#22ad3f"/>
<polygon points="307.50,203.12 305.70,206.25 309.30,206.25" fill="#22ad3f"/>
<polygon points="306.50,198.12 304.70,201.25 308.30,201.25" fill="#22ad3f"/>
<line x1="303.00" y1="200.50" x2="310.00" y2="200.50" stroke="#22ad3f" stroke-width="0.9"/>
<polygon points="315.50,186.62 313.70,189.75 317.30,189.75" fill="#dc1c2a"/>
<polygon points="313.50,187.62 311.70,190.75 315.30,190.75" fill="#dc1c2a"/>
<polygon points="317.50,188.62 315.70,191.75 319.30,191.75" fill="#dc1c2a"/>
<polygon points="314.50,189.42 312.70,192.55 316.30,192.55" fill="#dc1c2a"/>
<polygon points="316.50,187.12 314.70,190.25 318.30,190.25" fill="#dc1c2a"/>
<polygon points="315.50,188.12 313.70,191.25 317.30,191.25" fill="#dc1c2a"/>
<line x1="305.80" y1="184.10" x2="315.90" y2="184.10" stroke="#333" stroke-width="1.1"/>
<text x="310.85" y="183.90" font-size="6.1" text-anchor="middle" font-weight="bold" fill="#222" stroke="#222" stroke-width="0.25" letter-spacing="0.35">****</text>
<polygon points="330.30,198.62 328.50,201.75 332.10,201.75" fill="#22ad3f"/>
<polygon points="328.30,202.12 326.50,205.25 330.10,205.25" fill="#22ad3f"/>
<polygon points="332.30,205.12 330.50,208.25 334.10,208.25" fill="#22ad3f"/>
<polygon points="329.30,207.62 327.50,210.75 331.10,210.75" fill="#22ad3f"/>
<polygon points="331.30,210.12 329.50,213.25 333.10,213.25" fill="#22ad3f"/>
<polygon points="330.30,204.12 328.50,207.25 332.10,207.25" fill="#22ad3f"/>
<line x1="327.00" y1="206.00" x2="334.00" y2="206.00" stroke="#22ad3f" stroke-width="0.9"/>
<polygon points="339.20,192.62 337.40,195.75 341.00,195.75" fill="#dc1c2a"/>
<polygon points="337.20,195.62 335.40,198.75 339.00,198.75" fill="#dc1c2a"/>
<polygon points="341.20,197.62 339.40,200.75 343.00,200.75" fill="#dc1c2a"/>
<polygon points="338.20,199.12 336.40,202.25 340.00,202.25" fill="#dc1c2a"/>
<polygon points="340.20,196.62 338.40,199.75 342.00,199.75" fill="#dc1c2a"/>
<polygon points="339.20,198.12 337.40,201.25 341.00,201.25" fill="#dc1c2a"/>
<line x1="328.80" y1="189.90" x2="339.40" y2="189.90" stroke="#333" stroke-width="1.1"/>
<text x="334.10" y="189.70" font-size="6.1" text-anchor="middle" font-weight="bold" fill="#222" stroke="#222" stroke-width="0.25" letter-spacing="0.35">**</text>
<polygon points="354.20,225.62 352.40,228.75 356.00,228.75" fill="#22ad3f"/>
<polygon points="352.20,226.42 350.40,229.55 354.00,229.55" fill="#22ad3f"/>
<polygon points="356.20,227.12 354.40,230.25 358.00,230.25" fill="#22ad3f"/>
<polygon points="353.20,226.12 351.40,229.25 355.00,229.25" fill="#22ad3f"/>
<polygon points="355.20,226.72 353.40,229.85 357.00,229.85" fill="#22ad3f"/>
<polygon points="354.20,226.32 352.40,229.45 356.00,229.45" fill="#22ad3f"/>
<line x1="351.00" y1="228.30" x2="357.50" y2="228.30" stroke="#22ad3f" stroke-width="0.9"/>
<polygon points="363.00,196.12 361.20,199.25 364.80,199.25" fill="#dc1c2a"/>
<polygon points="361.00,198.62 359.20,201.75 362.80,201.75" fill="#dc1c2a"/>
<polygon points="365.00,200.62 363.20,203.75 366.80,203.75" fill="#dc1c2a"/>
<polygon points="362.00,202.62 360.20,205.75 363.80,205.75" fill="#dc1c2a"/>
<polygon points="364.00,199.12 362.20,202.25 365.80,202.25" fill="#dc1c2a"/>
<polygon points="363.00,201.12 361.20,204.25 364.80,204.25" fill="#dc1c2a"/>
<line x1="353.00" y1="192.00" x2="362.50" y2="192.00" stroke="#333" stroke-width="1.1"/>
<text x="357.75" y="191.80" font-size="6.1" text-anchor="middle" font-weight="bold" fill="#222" stroke="#222" stroke-width="0.25" letter-spacing="0.35">****</text>
<polygon points="377.00,236.42 375.20,239.55 378.80,239.55" fill="#22ad3f"/>
<polygon points="375.00,236.62 373.20,239.75 376.80,239.75" fill="#22ad3f"/>
<polygon points="379.00,236.32 377.20,239.45 380.80,239.45" fill="#22ad3f"/>
<polygon points="376.00,236.72 374.20,239.85 377.80,239.85" fill="#22ad3f"/>
<polygon points="378.00,236.52 376.20,239.65 379.80,239.65" fill="#22ad3f"/>
<polygon points="377.00,236.62 375.20,239.75 378.80,239.75" fill="#22ad3f"/>
<polygon points="387.00,227.12 385.20,230.25 388.80,230.25" fill="#dc1c2a"/>
<polygon points="385.00,227.92 383.20,231.05 386.80,231.05" fill="#dc1c2a"/>
<polygon points="389.00,228.62 387.20,231.75 390.80,231.75" fill="#dc1c2a"/>
<polygon points="386.00,227.62 384.20,230.75 387.80,230.75" fill="#dc1c2a"/>
<polygon points="388.00,228.32 386.20,231.45 389.80,231.45" fill="#dc1c2a"/>
<polygon points="387.00,228.02 385.20,231.15 388.80,231.15" fill="#dc1c2a"/>
<line x1="376.25" y1="225.00" x2="387.50" y2="225.00" stroke="#333" stroke-width="1.1"/>
<text x="381.88" y="224.80" font-size="6.1" text-anchor="middle" font-weight="bold" fill="#222" stroke="#222" stroke-width="0.25" letter-spacing="0.35">****</text>
<text x="402.50" y="154.70" font-size="13" font-weight="bold" fill="#000" stroke="#000" stroke-width="0.35">G</text>
<polygon points="430.40,157.60 428.10,161.60 432.70,161.60" fill="#22ad3f"/>
<text x="434.20" y="162.40" font-size="6.75" text-anchor="start" font-weight="normal" fill="#141414" stroke="#141414" stroke-width="0.2" >Control HLE BiTE molecule</text>
<polygon points="430.40,166.00 428.10,170.00 432.70,170.00" fill="#dc1c2a"/>
<text x="434.20" y="170.90" font-size="6.75" text-anchor="start" font-weight="normal" fill="#141414" stroke="#141414" stroke-width="0.2" >AMG 757</text>
<text transform="translate(408.9,207.5) rotate(-90)" font-size="7.2" text-anchor="middle" fill="#141414" stroke="#141414" stroke-width="0.2">CD8<tspan dy="-2.6" font-size="4.8">+</tspan><tspan dy="2.6"> (%)</tspan></text>
<line x1="423.50" y1="177.00" x2="423.50" y2="239.00" stroke="#3a3a3a" stroke-width="1.0"/>
<line x1="421.50" y1="238.50" x2="423.50" y2="238.50" stroke="#3a3a3a" stroke-width="1.0"/>
<text x="420.75" y="241.18" font-size="6.8" text-anchor="end" font-weight="normal" fill="#141414" stroke="#141414" stroke-width="0.2" >0</text>
<line x1="421.50" y1="226.50" x2="423.50" y2="226.50" stroke="#3a3a3a" stroke-width="1.0"/>
<text x="420.75" y="228.93" font-size="6.8" text-anchor="end" font-weight="normal" fill="#141414" stroke="#141414" stroke-width="0.2" >20</text>
<line x1="421.50" y1="214.50" x2="423.50" y2="214.50" stroke="#3a3a3a" stroke-width="1.0"/>
<text x="420.75" y="216.68" font-size="6.8" text-anchor="end" font-weight="normal" fill="#141414" stroke="#141414" stroke-width="0.2" >40</text>
<line x1="421.50" y1="202.50" x2="423.50" y2="202.50" stroke="#3a3a3a" stroke-width="1.0"/>
<text x="420.75" y="204.43" font-size="6.8" text-anchor="end" font-weight="normal" fill="#141414" stroke="#141414" stroke-width="0.2" >60</text>
<line x1="421.50" y1="189.50" x2="423.50" y2="189.50" stroke="#3a3a3a" stroke-width="1.0"/>
<text x="420.75" y="192.18" font-size="6.8" text-anchor="end" font-weight="normal" fill="#141414" stroke="#141414" stroke-width="0.2" >80</text>
<line x1="421.50" y1="177.50" x2="423.50" y2="177.50" stroke="#3a3a3a" stroke-width="1.0"/>
<text x="420.75" y="179.93" font-size="6.8" text-anchor="end" font-weight="normal" fill="#141414" stroke="#141414" stroke-width="0.2" >100</text>
<line x1="423.00" y1="238.50" x2="518.75" y2="238.50" stroke="#3a3a3a" stroke-width="1.0"/>
<line x1="435.50" y1="238.50" x2="435.50" y2="240.50" stroke="#3a3a3a" stroke-width="1.0"/>
<text x="435.75" y="249.60" font-size="6.8" text-anchor="middle" font-weight="normal" fill="#141414" stroke="#141414" stroke-width="0.2" >CD25</text>
<line x1="458.50" y1="238.50" x2="458.50" y2="240.50" stroke="#3a3a3a" stroke-width="1.0"/>
<text x="458.75" y="249.60" font-size="6.8" text-anchor="middle" font-weight="normal" fill="#141414" stroke="#141414" stroke-width="0.2" >CD69</text>
<line x1="482.50" y1="238.50" x2="482.50" y2="240.50" stroke="#3a3a3a" stroke-width="1.0"/>
<text x="482.00" y="249.60" font-size="6.8" text-anchor="middle" font-weight="normal" fill="#141414" stroke="#141414" stroke-width="0.2" >PD-1</text>
<line x1="505.50" y1="238.50" x2="505.50" y2="240.50" stroke="#3a3a3a" stroke-width="1.0"/>
<text x="505.50" y="249.60" font-size="6.8" text-anchor="middle" font-weight="normal" fill="#141414" stroke="#141414" stroke-width="0.2" >4-1BB</text>
<polygon points="430.60,205.62 428.80,208.75 432.40,208.75" fill="#22ad3f"/>
<polygon points="428.60,207.12 426.80,210.25 430.40,210.25" fill="#22ad3f"/>
<polygon points="432.60,208.62 430.80,211.75 434.40,211.75" fill="#22ad3f"/>
<polygon points="429.60,209.62 427.80,212.75 431.40,212.75" fill="#22ad3f"/>
<polygon points="431.60,206.62 429.80,209.75 433.40,209.75" fill="#22ad3f"/>
<polygon points="430.60,208.12 428.80,211.25 432.40,211.25" fill="#22ad3f"/>
<line x1="427.50" y1="209.50" x2="434.00" y2="209.50" stroke="#22ad3f" stroke-width="0.9"/>
<polygon points="440.60,195.12 438.80,198.25 442.40,198.25" fill="#dc1c2a"/>
<polygon points="438.60,196.92 436.80,200.05 440.40,200.05" fill="#dc1c2a"/>
<polygon points="442.60,198.42 440.80,201.55 444.40,201.55" fill="#dc1c2a"/>
<polygon points="439.60,199.62 437.80,202.75 441.40,202.75" fill="#dc1c2a"/>
<polygon points="441.60,197.62 439.80,200.75 443.40,200.75" fill="#dc1c2a"/>
<polygon points="440.60,198.62 438.80,201.75 442.40,201.75" fill="#dc1c2a"/>
<line x1="430.50" y1="190.50" x2="441.00" y2="190.50" stroke="#333" stroke-width="1.1"/>
<text x="435.75" y="190.30" font-size="6.1" text-anchor="middle" font-weight="bold" fill="#222" stroke="#222" stroke-width="0.25" letter-spacing="0.35">****</text>
<polygon points="455.00,215.62 453.20,218.75 456.80,218.75" fill="#22ad3f"/>
<polygon points="453.00,218.62 451.20,221.75 454.80,221.75" fill="#22ad3f"/>
<polygon points="457.00,221.12 455.20,224.25 458.80,224.25" fill="#22ad3f"/>
<polygon points="454.00,223.62 452.20,226.75 455.80,226.75" fill="#22ad3f"/>
<polygon points="456.00,217.12 454.20,220.25 457.80,220.25" fill="#22ad3f"/>
<polygon points="455.00,220.12 453.20,223.25 456.80,223.25" fill="#22ad3f"/>
<line x1="452.00" y1="221.50" x2="458.50" y2="221.50" stroke="#22ad3f" stroke-width="0.9"/>
<polygon points="463.80,199.62 462.00,202.75 465.60,202.75" fill="#dc1c2a"/>
<polygon points="461.80,202.12 460.00,205.25 463.60,205.25" fill="#dc1c2a"/>
<polygon points="465.80,204.62 464.00,207.75 467.60,207.75" fill="#dc1c2a"/>
<polygon points="462.80,207.12 461.00,210.25 464.60,210.25" fill="#dc1c2a"/>
<polygon points="464.80,203.12 463.00,206.25 466.60,206.25" fill="#dc1c2a"/>
<polygon points="463.80,205.12 462.00,208.25 465.60,208.25" fill="#dc1c2a"/>
<line x1="453.75" y1="196.25" x2="465.00" y2="196.25" stroke="#333" stroke-width="1.1"/>
<text x="459.38" y="196.05" font-size="6.1" text-anchor="middle" font-weight="bold" fill="#222" stroke="#222" stroke-width="0.25" letter-spacing="0.35">****</text>
<polygon points="478.80,233.12 477.00,236.25 480.60,236.25" fill="#22ad3f"/>
<polygon points="476.80,233.92 475.00,237.05 478.60,237.05" fill="#22ad3f"/>
<polygon points="480.80,234.32 479.00,237.45 482.60,237.45" fill="#22ad3f"/>
<polygon points="477.80,233.62 476.00,236.75 479.60,236.75" fill="#22ad3f"/>
<polygon points="479.80,234.02 478.00,237.15 481.60,237.15" fill="#22ad3f"/>
<polygon points="478.80,233.72 477.00,236.85 480.60,236.85" fill="#22ad3f"/>
<polygon points="487.30,207.12 485.50,210.25 489.10,210.25" fill="#dc1c2a"/>
<polygon points="485.30,210.12 483.50,213.25 487.10,213.25" fill="#dc1c2a"/>
<polygon points="489.30,212.62 487.50,215.75 491.10,215.75" fill="#dc1c2a"/>
<polygon points="486.30,215.62 484.50,218.75 488.10,218.75" fill="#dc1c2a"/>
<polygon points="488.30,209.12 486.50,212.25 490.10,212.25" fill="#dc1c2a"/>
<polygon points="487.30,213.12 485.50,216.25 489.10,216.25" fill="#dc1c2a"/>
<line x1="477.50" y1="203.75" x2="488.00" y2="203.75" stroke="#333" stroke-width="1.1"/>
<text x="482.75" y="203.55" font-size="6.1" text-anchor="middle" font-weight="bold" fill="#222" stroke="#222" stroke-width="0.25" letter-spacing="0.35">****</text>
<polygon points="502.00,236.42 500.20,239.55 503.80,239.55" fill="#22ad3f"/>
<polygon points="500.00,236.62 498.20,239.75 501.80,239.75" fill="#22ad3f"/>
<polygon points="504.00,236.32 502.20,239.45 505.80,239.45" fill="#22ad3f"/>
<polygon points="501.00,236.72 499.20,239.85 502.80,239.85" fill="#22ad3f"/>
<polygon points="503.00,236.52 501.20,239.65 504.80,239.65" fill="#22ad3f"/>
<polygon points="502.00,236.62 500.20,239.75 503.80,239.75" fill="#22ad3f"/>
<polygon points="512.00,220.62 510.20,223.75 513.80,223.75" fill="#dc1c2a"/>
<polygon points="510.00,221.42 508.20,224.55 511.80,224.55" fill="#dc1c2a"/>
<polygon points="514.00,222.12 512.20,225.25 515.80,225.25" fill="#dc1c2a"/>
<polygon points="511.00,221.12 509.20,224.25 512.80,224.25" fill="#dc1c2a"/>
<polygon points="513.00,221.92 511.20,225.05 514.80,225.05" fill="#dc1c2a"/>
<polygon points="512.00,221.62 510.20,224.75 513.80,224.75" fill="#dc1c2a"/>
<line x1="501.25" y1="216.75" x2="511.25" y2="216.75" stroke="#333" stroke-width="1.1"/>
<text x="506.25" y="216.55" font-size="6.1" text-anchor="middle" font-weight="bold" fill="#222" stroke="#222" stroke-width="0.25" letter-spacing="0.35">****</text>
<text x="65" y="280" font-size="10" text-anchor="middle" fill="#141414" stroke="#141414" stroke-width="0.18">Control HLE BiTE</text>
<text x="65" y="291.8" font-size="10" text-anchor="middle" fill="#141414" stroke="#141414" stroke-width="0.18">molecule</text>
<text x="170" y="291.8" font-size="10" text-anchor="middle" fill="#141414" stroke="#141414" stroke-width="0.18">AMG 757</text>
<text x="0.4" y="271.7" font-size="13" font-weight="bold" fill="#000" stroke="#000" stroke-width="0.35">H</text>
<text x="314" y="280.5" font-size="10" text-anchor="middle" fill="#141414" stroke="#141414" stroke-width="0.18">Control HLE BiTE</text>
<text x="314" y="292" font-size="10" text-anchor="middle" fill="#141414" stroke="#141414" stroke-width="0.18">molecule</text>
<text x="419.5" y="291.6" font-size="10" text-anchor="middle" fill="#141414" stroke="#141414" stroke-width="0.18">AMG 757</text>
<text x="254.7" y="271.7" font-size="13" font-weight="bold" fill="#000" stroke="#000" stroke-width="0.35">I</text>
<text x="477.6" y="331.8" font-size="10.3" fill="#141414" stroke="#141414" stroke-width="0.28">CD4<tspan dy="-4.0" font-size="7.2" font-weight="bold">+</tspan></text>
<text x="477.6" y="399.5" font-size="10.3" fill="#141414" stroke="#141414" stroke-width="0.28">CD8<tspan dy="-4.0" font-size="7.2" font-weight="bold">+</tspan></text>
<clipPath id="tTL"><path d="M31.8,305.4 C50,305.5 80,306.5 100.3,308.5 C103,312 104,317 103.4,321 C103.5,326 103.2,330 102.4,333.4 C101.5,337 100,339.5 98.2,341.7 C95.5,345 93,347 89.9,349 C86,351.5 82,353 77.5,354.2 C72,355.5 67,356.2 62.9,356.3 C57,356.2 52,355.5 48.4,354.2 C43,352.5 39,350.5 35.9,348 C32,345 29.5,341.5 27.6,337.6 C25,333 24,330 23.5,327.2 C23.2,323 23.5,320 24.5,316.8 C25.5,313 27,310.5 28.7,308.5 C29.7,307 30.7,306 31.8,305.4 Z"/></clipPath>
<clipPath id="tTR"><ellipse cx="167" cy="331" rx="29" ry="24.5"/></clipPath>
<clipPath id="tBL"><path d="M11,361 L98,361 C97,366 95,370 93.6,368.5 C92,372 89,375.5 86.2,378 C83,381 79,384 75.6,386.5 C71,390 66,393.5 60.8,397 C56,400.5 51,404.5 46,407.6 C41,410.5 36,413 31.2,415 C26,417.5 20,420 15.3,421.4 L11,423 Z"/></clipPath>
<clipPath id="tBRL"><path d="M117,361 L157.5,361 C156.5,370 155,374 154.8,377 C151,383 147,387 143.7,390.3 C140,393 138,396 136,399.2 C136.5,404 137,408 137.1,412.4 C136.5,417 136,421 134.9,429 L117,429 Z"/></clipPath>
<clipPath id="tBRM"><path d="M157.5,361 L202,361 C196,369 191,375 188,379.3 C185,384 183,387 181.3,390.3 C179.5,396 178,402 176.9,408 C175,412 172.5,415.5 170.3,418 C167,419.5 164,420 161.4,420.2 C160,421 159,424 158.5,429 L134.9,429 C136,421 136.5,417 137.1,412.4 C137,408 136.5,404 136,399.2 C138,396 140,393 143.7,390.3 C147,387 151,383 154.8,377 C155,374 156.5,370 157.5,361 Z"/></clipPath>
<clipPath id="rTR"><path fill-rule="evenodd" clip-rule="evenodd" d="M382.5,333 a32,26 0 1,0 64,0 a32,26 0 1,0 -64,0 Z M390.5,333 a24,18 0 1,1 48,0 a24,18 0 1,1 -48,0 Z"/></clipPath>
<clipPath id="rBR"><path fill-rule="evenodd" clip-rule="evenodd" d="M382.3,397.4 a34,27 0 1,0 68,0 a34,27 0 1,0 -68,0 Z M391.3,397.4 a25,18 0 1,1 50,0 a25,18 0 1,1 -50,0 Z"/></clipPath>
<g clip-path="url(#c1)"><g filter="url(#soft)">
<rect x="11" y="296" width="108" height="67" fill="#d98ad9"/>
<path d="M11,296 L11,297.2 L23.5,297.7 C27,300 30,301.5 33.8,302.2 C40,303.2 46,303.6 52.5,303.9 C60,304.5 66,305 73.3,305.4 C80,306 87,306.7 94,307.4 C99,308 104,308.8 108.6,309.5 C111,310 113,310.8 115.9,311.6 L119,312.5 L119,296 Z" fill="#fbf7fb"/>
<path d="M31.8,305.4 C50,305.5 80,306.5 100.3,308.5 C103,312 104,317 103.4,321 C103.5,326 103.2,330 102.4,333.4 C101.5,337 100,339.5 98.2,341.7 C95.5,345 93,347 89.9,349 C86,351.5 82,353 77.5,354.2 C72,355.5 67,356.2 62.9,356.3 C57,356.2 52,355.5 48.4,354.2 C43,352.5 39,350.5 35.9,348 C32,345 29.5,341.5 27.6,337.6 C25,333 24,330 23.5,327.2 C23.2,323 23.5,320 24.5,316.8 C25.5,313 27,310.5 28.7,308.5 C29.7,307 30.7,306 31.8,305.4 Z" fill="#9472c8"/>
</g>
<g><rect x="11" y="296" width="108" height="67" filter="url(#nd)" opacity="0.15"/></g>
<g clip-path="url(#tTL)"><rect x="11" y="296" width="108" height="67" filter="url(#nd2)" opacity="0.32"/></g>
<g clip-path="url(#tTL)"><rect x="11" y="296" width="108" height="67" filter="url(#nl)" opacity="0.22"/></g>
<g filter="url(#soft)"><ellipse cx="110.3" cy="350" rx="2.4" ry="2.2" fill="#faf4fa"/>
<path d="M31.5,354.6 L33,353.4 L45.8,358.3 L44.8,359.9 Z" fill="#faf4fa" stroke="#faf4fa" stroke-width="0.8" stroke-linejoin="round"/>
<path d="M11,296 L11,297.2 L23.5,297.7 C27,300 30,301.5 33.8,302.2 C40,303.2 46,303.6 52.5,303.9 C60,304.5 66,305 73.3,305.4 C80,306 87,306.7 94,307.4 C99,308 104,308.8 108.6,309.5 C111,310 113,310.8 115.9,311.6 L119,312.5 L119,296 Z" fill="#fbf7fb"/></g>
</g>
<g clip-path="url(#c2)"><g filter="url(#soft)">
<rect x="117" y="296" width="107" height="67" fill="#d98ad9"/>
</g>
<ellipse cx="167" cy="331" rx="31" ry="26" fill="#a689d2" filter="url(#soft2)"/>
<g><rect x="117" y="296" width="107" height="67" filter="url(#nd)" opacity="0.15"/></g>
<g clip-path="url(#tTR)"><rect x="117" y="296" width="107" height="67" filter="url(#nd2)" opacity="0.35"/></g>
<g clip-path="url(#tTR)"><rect x="117" y="296" width="107" height="67" filter="url(#nl2)" opacity="0.35"/></g>
<path d="M147,296 L148.2,298.1 C155,299 162,300 168.9,301.2 C175,302.5 180,304 185.5,305.4 C192,307.5 198,310 204.2,312.6 C210,315.5 215,318.5 220.8,322 L224,324 L224,296 Z" fill="#fbf7fb" filter="url(#soft)"/>
</g>
<g clip-path="url(#c3)"><g filter="url(#soft)">
<rect x="11" y="361" width="108" height="68" fill="#d07ed0"/>
<path d="M11,361 L98,361 C97,366 95,370 93.6,368.5 C92,372 89,375.5 86.2,378 C83,381 79,384 75.6,386.5 C71,390 66,393.5 60.8,397 C56,400.5 51,404.5 46,407.6 C41,410.5 36,413 31.2,415 C26,417.5 20,420 15.3,421.4 L11,423 Z" fill="#a07cd2"/>
</g>
<g><rect x="11" y="361" width="108" height="68" filter="url(#nd)" opacity="0.5"/></g>
<g clip-path="url(#tBL)"><rect x="11" y="361" width="108" height="68" filter="url(#nd3)" opacity="0.7"/></g>
<g clip-path="url(#tBL)"><rect x="11" y="361" width="108" height="68" filter="url(#nl)" opacity="0.5"/></g>
<g><rect x="11" y="361" width="108" height="68" filter="url(#nl2)" opacity="0.25"/></g>
<path d="M15.3,421.4 C25,417 38,411 46,407.6 C53,403 58,399.5 60.8,397 C66,393 72,389 75.6,386.5 C80,383 84,380 86.2,378 C89,375 92,371 93.6,368.5 C95,366 96,364.5 96.7,363.2" fill="none" stroke="#111" stroke-width="2.0" stroke-dasharray="3.3,2.2"/>
</g>
<g clip-path="url(#c4)"><g filter="url(#soft)">
<rect x="117" y="361" width="107" height="68" fill="#cc7dd0"/>
<path d="M117,361 L157.5,361 C156.5,370 155,374 154.8,377 C151,383 147,387 143.7,390.3 C140,393 138,396 136,399.2 C136.5,404 137,408 137.1,412.4 C136.5,417 136,421 134.9,429 L117,429 Z" fill="#a07cd2"/>
<path d="M157.5,361 L202,361 C196,369 191,375 188,379.3 C185,384 183,387 181.3,390.3 C179.5,396 178,402 176.9,408 C175,412 172.5,415.5 170.3,418 C167,419.5 164,420 161.4,420.2 C160,421 159,424 158.5,429 L134.9,429 C136,421 136.5,417 137.1,412.4 C137,408 136.5,404 136,399.2 C138,396 140,393 143.7,390.3 C147,387 151,383 154.8,377 C155,374 156.5,370 157.5,361 Z" fill="#aa8ed6"/>
</g>
<g><rect x="117" y="361" width="107" height="68" filter="url(#nd)" opacity="0.5"/></g>
<g clip-path="url(#tBRL)"><rect x="117" y="361" width="107" height="68" filter="url(#nd3)" opacity="0.7"/></g>
<g clip-path="url(#tBRM)"><rect x="117" y="361" width="107" height="68" filter="url(#nd2)" opacity="0.6"/></g>
<g clip-path="url(#tBRL)"><rect x="117" y="361" width="107" height="68" filter="url(#nl2)" opacity="0.9"/></g>
<g clip-path="url(#tBRM)"><rect x="117" y="361" width="107" height="68" filter="url(#nl2)" opacity="0.5"/></g>
<path d="M157,363.4 C156.5,368 156.2,372 156,373 C155.5,376 154.5,379 151.5,384.5 C149,386.5 148,387.5 146,388.5 C143,390 141.5,391 140,392 C138,394 137,395.5 136,399.2 C136.5,404 137,408 137.1,412.4 C136.5,417 136,421 134.9,425.7" fill="none" stroke="#111" stroke-width="2.0" stroke-dasharray="3.3,2.2"/>
<path d="M201.2,362.7 C196,369 191,375 188,379.3 C185,384 183,387 181.3,390.3 C179.5,396 178,402 176.9,408 C175,412 172.5,415.5 170.3,418 C167,419.5 164,420 161.4,420.2 C160,421 159,424 158.5,428" fill="none" stroke="#111" stroke-width="2.0" stroke-dasharray="3.3,2.2"/>
</g>
<text x="61.9" y="331.5" font-size="7" font-weight="bold" text-anchor="middle" fill="#1c1030">T</text>
<text x="19.3" y="352.5" font-size="7" font-weight="bold" text-anchor="middle" fill="#1c1030">L</text>
<text x="109.6" y="345.5" font-size="7" font-weight="bold" text-anchor="middle" fill="#1c1030">L</text>
<text x="164.8" y="336.7" font-size="7" font-weight="bold" text-anchor="middle" fill="#1c1030">T</text>
<text x="131.5" y="352.7" font-size="7" font-weight="bold" text-anchor="middle" fill="#1c1030">L</text>
<text x="210.5" y="345.6" font-size="7" font-weight="bold" text-anchor="middle" fill="#1c1030">L</text>
<text x="28" y="387.6" font-size="7" font-weight="bold" text-anchor="middle" fill="#1c1030">T</text>
<text x="88.3" y="412.6" font-size="7" font-weight="bold" text-anchor="middle" fill="#1c1030">L</text>
<text x="128.3" y="374.9" font-size="7" font-weight="bold" text-anchor="middle" fill="#1c1030">T</text>
<text x="205.7" y="416.3" font-size="7" font-weight="bold" text-anchor="middle" fill="#1c1030">L</text>
<g clip-path="url(#c5)"><g filter="url(#soft)">
<rect x="261" y="296" width="107" height="67" fill="#cdd9e3"/>
<path d="M286,296 L286.5,298 C295,299.5 305,300.5 313,301.1 C320,302 327,303 333.3,304.1 C338,305 343,306.5 347.6,308.2 C352,309.5 356,310.5 359,311.5 C362,312 364,312.3 368,312.5 L368,296 Z" fill="#f3f6f8"/>
<path id="blobITL" d="M287.5,299 C296,300 305,300.6 313,301.1 C320,302 327,303 333.3,304.1 C340,305.3 344,306.5 347.6,308.2 C351,309.3 353.5,310.3 355.8,311.3 C354.5,313.5 353.5,316 352.7,318.4 C351,322 350.3,325 349.6,328.6 C348.5,332.5 347.7,336 346.6,339.8 C345.5,342.5 344.2,345 342.5,347 C340.5,350.5 338,353 335.4,355 C332.5,356.3 330,356.8 327.2,357.1 C322,357.8 317.5,358.2 313,358.1 C308.5,357.5 304.5,356.8 300.7,356 C297.5,354.5 295,353.3 292.6,352 C289.5,350.3 287,348.7 284.4,347 C281.5,345.5 279.5,343.7 277.3,341.8 C275.8,340 274.8,338.5 274.2,336.7 C274.5,334.5 274.8,332.5 275.2,330.6 C276,326.5 277,322.5 278.3,318.4 C279.8,314.8 281.6,311.5 283.4,308.2 C284.8,305 286,302 287.5,299 Z" fill="#a0bad9"/>
</g>
<g><rect x="261" y="296" width="107" height="67" filter="url(#ib)" opacity="0.4"/></g>
<g><rect x="261" y="296" width="107" height="67" filter="url(#iw)" opacity="0.45"/></g>
<path filter="url(#soft)" d="M286,296 L286.5,298 C295,299.5 305,300.5 313,301.1 C320,302 327,303 333.3,304.1 C338,305 343,306.5 347.6,308.2 C352,309.5 356,310.5 359,311.5 C362,312 364,312.3 368,312.5 L368,296 Z" fill="#f3f6f8"/>
<ellipse cx="301" cy="360.6" rx="6.5" ry="1.3" fill="#f1f4f6" filter="url(#soft)"/>
<ellipse cx="330" cy="360.9" rx="3.2" ry="1" fill="#f1f4f6" filter="url(#soft)"/>
</g>
<g clip-path="url(#c6)"><g filter="url(#soft)">
<rect x="366" y="296" width="108" height="67" fill="#cdd9e3"/>
<path d="M375,296 L376.4,298.1 C387,299.5 397,300.8 407.5,302.2 C415,303.5 421.5,305.2 428.3,307.4 C433,309 437,310.8 440.8,312.6 C445,314.5 449,316.5 453.2,318.9 C457,321.5 460.5,324 463.6,327.2 C466.5,330 469,332.5 470.9,335.5 L474,338 L474,296 Z" fill="#f3f6f8"/>
<ellipse cx="415" cy="333" rx="30.5" ry="25" fill="#b8c9db"/>
</g>
<g><rect x="366" y="296" width="108" height="67" filter="url(#ib)" opacity="0.4"/></g>
<g><rect x="366" y="296" width="108" height="67" filter="url(#iw)" opacity="0.45"/></g>
<g clip-path="url(#rTR)"><rect x="366" y="296" width="108" height="67" filter="url(#br)" opacity="0.5"/></g>
<path filter="url(#soft)" d="M375,296 L376.4,298.1 C387,299.5 397,300.8 407.5,302.2 C415,303.5 421.5,305.2 428.3,307.4 C433,309 437,310.8 440.8,312.6 C445,314.5 449,316.5 453.2,318.9 C457,321.5 460.5,324 463.6,327.2 C466.5,330 469,332.5 470.9,335.5 L474,338 L474,296 Z" fill="#f3f6f8"/>
</g>
<g clip-path="url(#c7)"><g filter="url(#soft)">
<rect x="261" y="361" width="108" height="68" fill="#cdd9e3"/>
<path d="M281,361 L282.4,362.6 C289,363.5 296,364.4 302.8,365.1 C310,365.8 316.5,366.4 323.2,367.1 C329,368.2 334.5,369.6 339.5,371.2 C343,372.5 346.5,373.8 349.6,375.3 C355,377 360,378.3 366,379.3 L369,379.8 L369,361 Z" fill="#f3f6f8"/>
<path d="M288.5,371.2 C293,369 297.5,367.8 302.8,367.1 C309.5,367.3 316.5,367.6 323.2,368.1 C329,369.5 334.5,371.2 339.5,373.2 C343,376.2 345.8,379.5 347.6,383.4 C349.2,387.4 350.2,391.5 350.7,395.6 C350.2,400.5 349.2,405.3 347.6,409.9 C345.3,413.2 342.6,416.3 339.5,419 C334.5,421.5 329,423.3 323.2,424.1 C317.5,424.2 312,423.8 306.8,423.1 C302.5,421.6 298.5,419.9 294.6,418 C291.3,414.8 288.6,411.4 286.5,407.8 C284.8,403.2 283.8,398.4 283.4,393.6 C283.4,389.5 283.7,385.4 284.4,381.4 C285.5,377.8 286.8,374.4 288.5,371.2 Z" fill="#a0bad9"/>
<path d="M262.5,393 C264,397.5 265.8,400.8 268.1,403.8 C271.2,407.1 274.6,409.8 278.3,411.9 C282.9,414.5 287.6,416.8 292.6,419 C297.2,420.9 302,422.6 306.8,424.1 C309.5,424.9 312.2,425.6 315,426.2" fill="none" stroke="#f1f4f6" stroke-width="4.2" stroke-linecap="round"/>
<circle cx="270" cy="387.5" r="1.2" fill="#eef2f5"/>
</g>
<g><rect x="261" y="361" width="108" height="68" filter="url(#ib)" opacity="0.4"/></g>
<g><rect x="261" y="361" width="108" height="68" filter="url(#iw)" opacity="0.45"/></g>
<path filter="url(#soft)" d="M281,361 L282.4,362.6 C289,363.5 296,364.4 302.8,365.1 C310,365.8 316.5,366.4 323.2,367.1 C329,368.2 334.5,369.6 339.5,371.2 C343,372.5 346.5,373.8 349.6,375.3 C355,377 360,378.3 366,379.3 L369,379.8 L369,361 Z" fill="#f3f6f8"/>
<circle filter="url(#soft)" cx="270" cy="387.5" r="1.2" fill="#eef2f5"/>
</g>
<g clip-path="url(#c8)"><g filter="url(#soft)">
<rect x="366" y="361" width="108" height="68" fill="#cdd9e3"/>
<path d="M369,361 L370.2,365.2 C379,366.3 388,367.3 397.2,368.3 C406,369.5 415,370.8 424.2,372.4 C429,373.8 434,375.6 438.7,377.6 C443.5,379.5 448.5,381.5 453.2,383.9 C457.5,386.5 461.8,389.3 465.7,392.2 C468,394.5 470,397 471.9,399.5 L474,401 L474,361 Z" fill="#f3f6f8"/>
<ellipse cx="416.3" cy="397.4" rx="32.5" ry="26" fill="#b8c9db"/>
</g>
<g><rect x="366" y="361" width="108" height="68" filter="url(#ib)" opacity="0.4"/></g>
<g><rect x="366" y="361" width="108" height="68" filter="url(#iw)" opacity="0.45"/></g>
<g clip-path="url(#rBR)"><rect x="366" y="361" width="108" height="68" filter="url(#br)" opacity="0.62"/></g>
<path filter="url(#soft)" d="M369,361 L370.2,365.2 C379,366.3 388,367.3 397.2,368.3 C406,369.5 415,370.8 424.2,372.4 C429,373.8 434,375.6 438.7,377.6 C443.5,379.5 448.5,381.5 453.2,383.9 C457.5,386.5 461.8,389.3 465.7,392.2 C468,394.5 470,397 471.9,399.5 L474,401 L474,361 Z" fill="#f3f6f8"/>
</g>
<rect x="103.5" y="354.9" width="7" height="0.6" fill="#f8eef8"/>
<text x="107" y="357.4" font-size="2.8" font-weight="bold" text-anchor="middle" fill="#f8eef8">100 µm</text>
<rect x="209.5" y="354.9" width="7" height="0.6" fill="#f8eef8"/>
<text x="213" y="357.4" font-size="2.8" font-weight="bold" text-anchor="middle" fill="#f8eef8">100 µm</text>
<rect x="352.8" y="354.4" width="7" height="0.6" fill="#222"/>
<text x="356.3" y="356.9" font-size="2.8" font-weight="bold" text-anchor="middle" fill="#222">100 µm</text>
<rect x="459.5" y="354.79999999999995" width="7" height="0.6" fill="#222"/>
<text x="463" y="357.29999999999995" font-size="2.8" font-weight="bold" text-anchor="middle" fill="#222">100 µm</text>
<rect x="352.5" y="420.29999999999995" width="7" height="0.6" fill="#222"/>
<text x="356" y="422.79999999999995" font-size="2.8" font-weight="bold" text-anchor="middle" fill="#222">100 µm</text>
<rect x="459.1" y="420.09999999999997" width="7" height="0.6" fill="#222"/>
<text x="462.6" y="422.59999999999997" font-size="2.8" font-weight="bold" text-anchor="middle" fill="#222">100 µm</text>
<rect x="12" y="297" width="211" height="130.7" fill="none" stroke="#2b2b2b" stroke-width="1.1"/>
<rect x="262" y="297" width="210.3" height="130.60000000000002" fill="none" stroke="#2b2b2b" stroke-width="1.1"/>
<line x1="117.6" y1="297" x2="117.6" y2="427.7" stroke="#2b2b2b" stroke-width="1.1"/>
<line x1="12" y1="362.2" x2="223" y2="362.2" stroke="#2b2b2b" stroke-width="1.1"/>
<line x1="367" y1="297" x2="367" y2="427.6" stroke="#2b2b2b" stroke-width="1.1"/>
<line x1="262" y1="362.3" x2="472.3" y2="362.3" stroke="#2b2b2b" stroke-width="1.1"/>
</svg>
</body></html>
